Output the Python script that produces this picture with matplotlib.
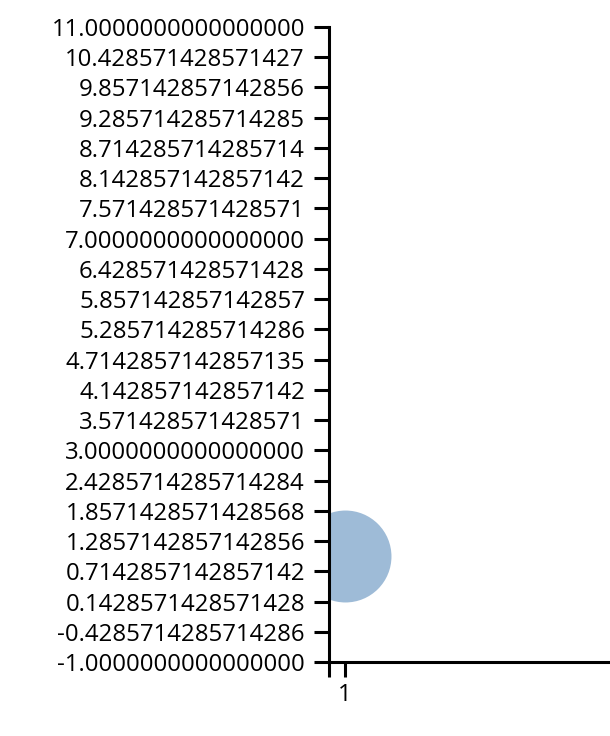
import numpy as np
import matplotlib
matplotlib.use('Agg')
import matplotlib.pyplot as plt

# one point, y axis from -1 to 11 in 21 steps
x_vals = [1]
y_vals = [1]
y_ticks = list(np.linspace(-1, 11, 22))
y_labels = [
    '-1.0000000000000000', '-0.4285714285714286', '0.1428571428571428',
    '0.7142857142857142', '1.2857142857142856', '1.8571428571428568',
    '2.4285714285714284', '3.0000000000000000', '3.571428571428571',
    '4.142857142857142', '4.7142857142857135', '5.285714285714286',
    '5.857142857142857', '6.428571428571428', '7.0000000000000000',
    '7.571428571428571', '8.142857142857142', '8.714285714285714',
    '9.285714285714285', '9.857142857142856', '10.428571428571427',
    '11.0000000000000000',
]
x_ticks = [1]
x_labels = ['1']

plt.rcParams['font.family'] = ['Open Sans', 'DejaVu Sans']

fig = plt.figure(figsize=(6.1, 7.36), dpi=100)
ax = fig.add_axes([329 / 610, 74 / 736, 281 / 610, 635 / 736])

ax.scatter(x_vals, y_vals, s=66.2 ** 2, color='#9ebbd7', linewidths=0, zorder=1)

ax.set_ylim(-1, 11)
ax.set_xlim(0.9, 0.9 + 0.1 * 281 / 16)

ax.set_yticks(y_ticks)
ax.set_yticklabels(y_labels)
# outer tick at the left end of the x axis, like a d3 domain path
ax.set_xticks([ax.get_xlim()[0]] + x_ticks)
ax.set_xticklabels([''] + x_labels)

for side in ['top', 'right']:
    ax.spines[side].set_visible(False)
for side in ['left', 'bottom']:
    ax.spines[side].set_linewidth(2.2)
    ax.spines[side].set_color('black')

ax.tick_params(axis='y', length=10.8, width=2.2, pad=6.5, labelsize=17.3, colors='black')
ax.tick_params(axis='x', length=10.8, width=2.2, pad=4, labelsize=17.3, colors='black')

fig.savefig('out.png', dpi=100)
plt.close(fig)
